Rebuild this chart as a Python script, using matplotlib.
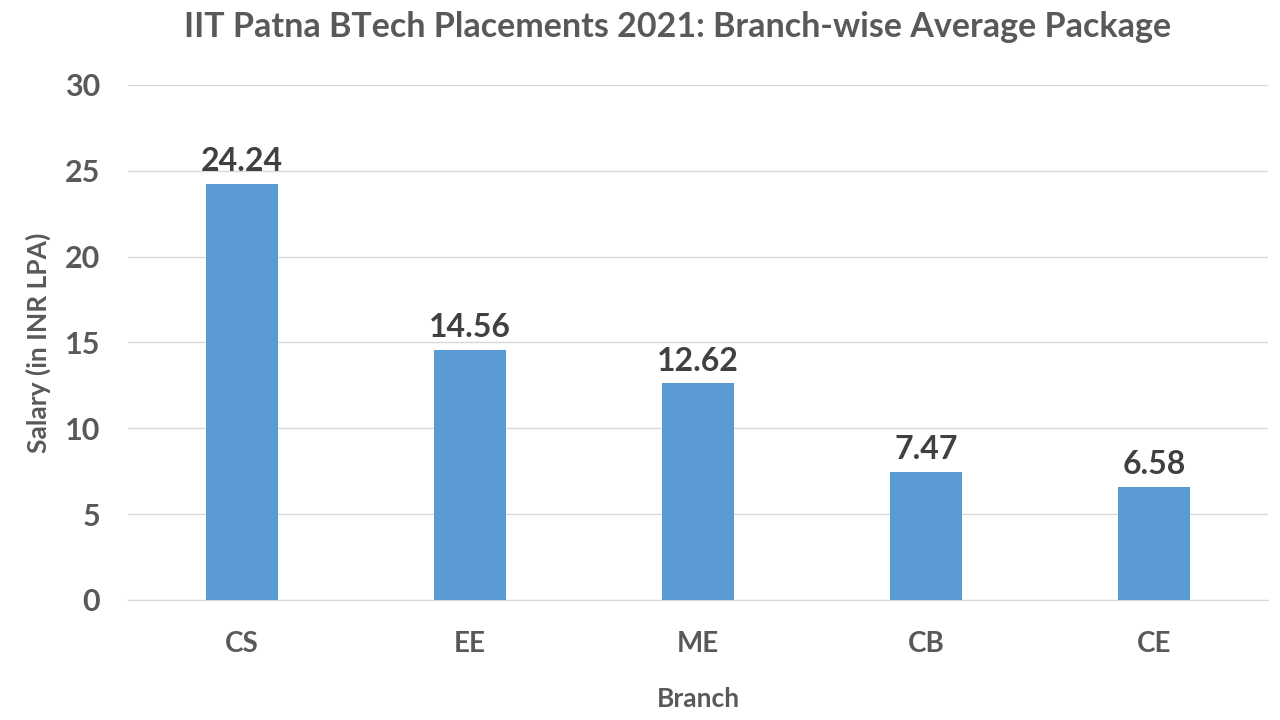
import matplotlib
matplotlib.use("Agg")
import matplotlib.pyplot as plt

branches = ["CS", "EE", "ME", "CB", "CE"]
salaries = [24.24, 14.56, 12.62, 7.47, 6.58]
yticks = [0, 5, 10, 15, 20, 25, 30]

plt.rcParams['font.family'] = ['Lato', 'DejaVu Sans']
fig = plt.figure(figsize=(12.8, 7.2), dpi=100)
ax = fig.add_axes([0.1, 0.1667, 0.8906, 0.7153])

x = range(len(branches))
bars = ax.bar(x, salaries, width=0.315, color="#5B9BD5", zorder=3)
for xi, v in zip(x, salaries):
    ax.text(xi, v + 0.45, f"{v:.2f}", ha="center", va="bottom",
            fontsize=23, fontweight="bold", color="#404040")

ax.set_xlim(-0.5, len(branches) - 0.5)
ax.set_ylim(0, 30)
ax.set_yticks(yticks)
ax.set_xticks(list(x))
ax.set_xticklabels(branches)
ax.grid(axis="y", color="#D9D9D9", linewidth=1, zorder=0)
for s in ["top", "right", "left"]:
    ax.spines[s].set_visible(False)
ax.spines["bottom"].set_color("#D9D9D9")
ax.tick_params(axis="both", length=0)
ax.tick_params(axis="y", labelsize=22, labelcolor="#595959", pad=20)
ax.tick_params(axis="x", labelsize=20, labelcolor="#595959", pad=22)
for lbl in ax.get_xticklabels() + ax.get_yticklabels():
    lbl.set_fontweight("bold")

ax.set_xlabel("Branch", fontsize=19, fontweight="bold", color="#595959", labelpad=22)
ax.set_ylabel("Salary (in INR LPA)", fontsize=19, fontweight="bold", color="#595959", labelpad=10)
fig.text(0.529, 0.963, "IIT Patna BTech Placements 2021: Branch-wise Average Package",
         ha="center", va="center", fontsize=24.5, fontweight="bold", color="#595959")

fig.savefig("out.png", dpi=100)
